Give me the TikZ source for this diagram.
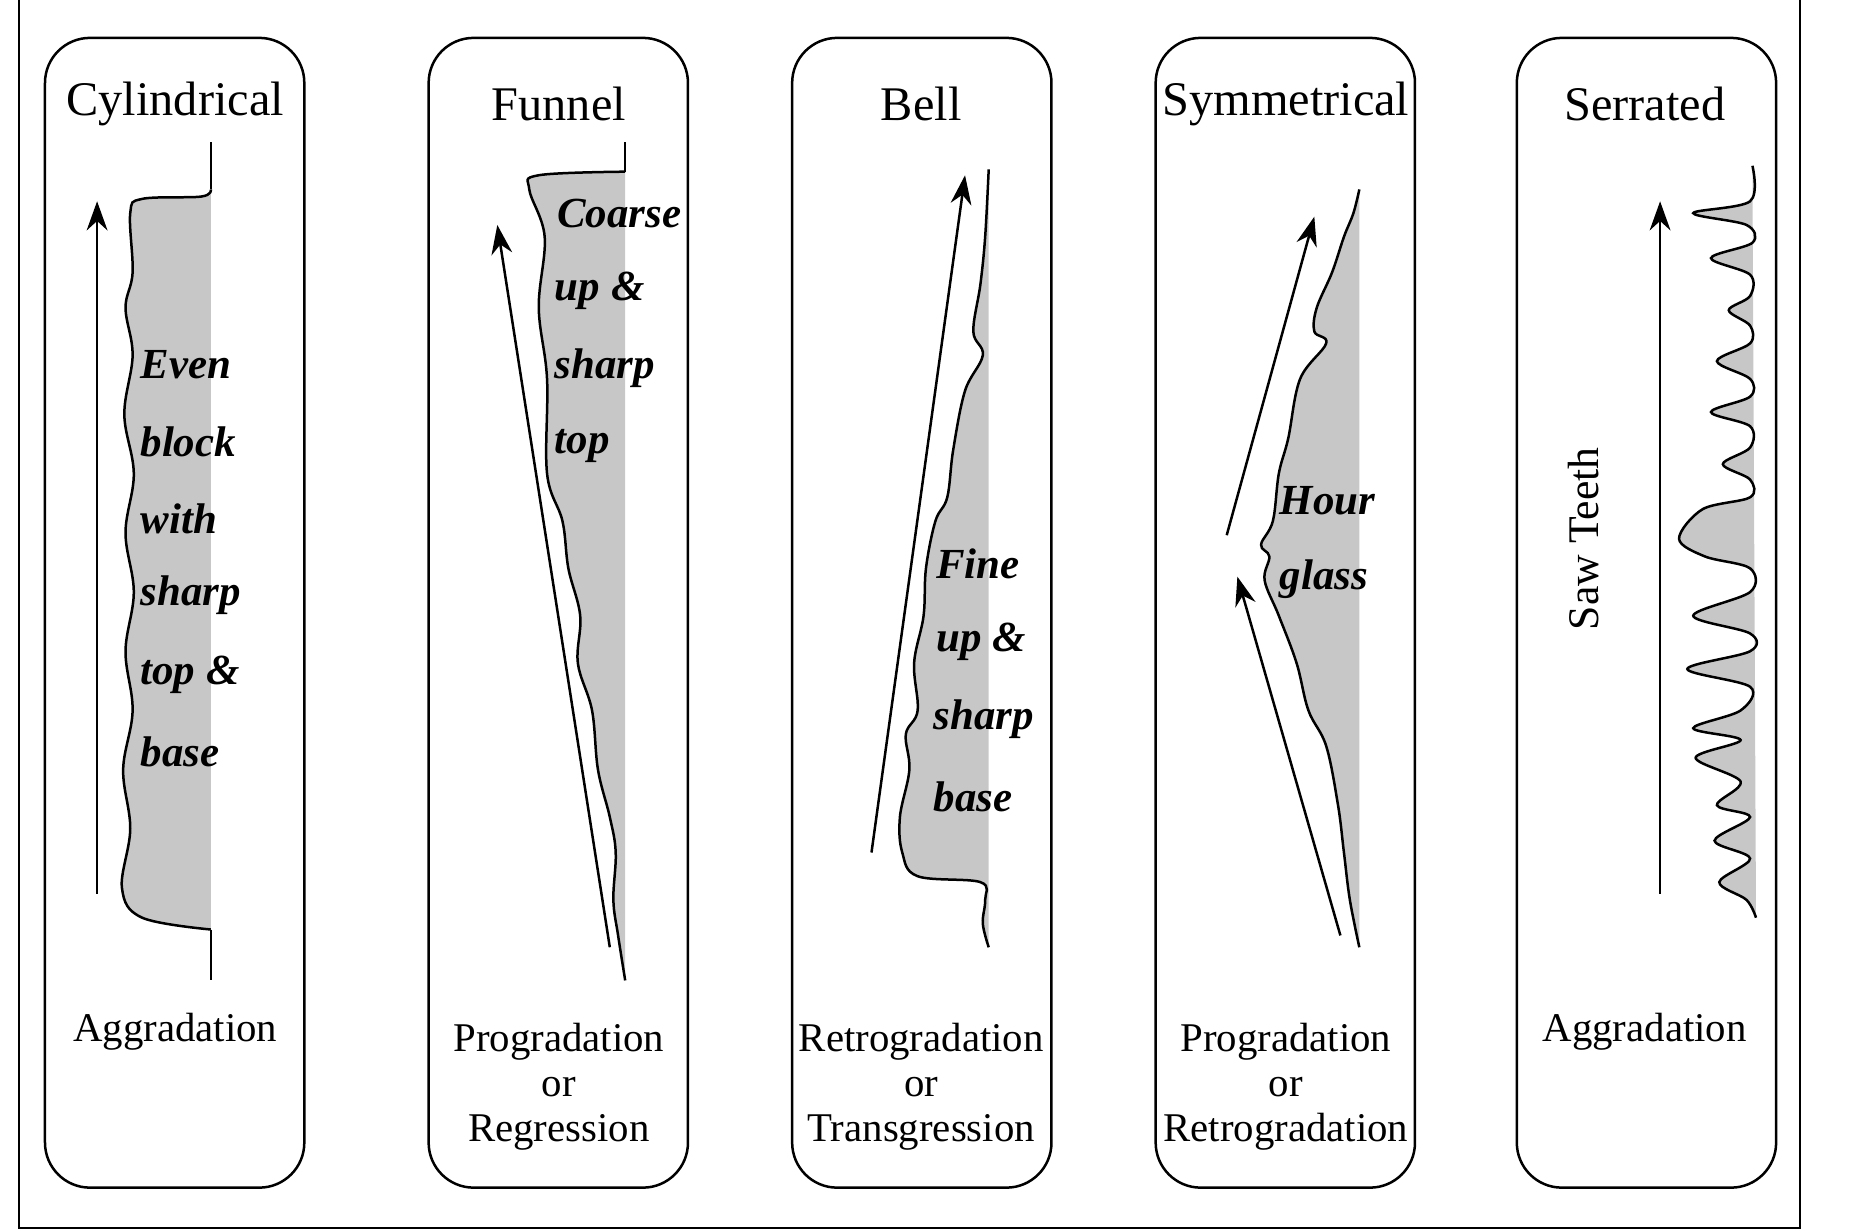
\documentclass[tikz,border=0pt]{standalone}
\usepackage{fontspec}
\setmainfont{Liberation Serif}
\usetikzlibrary{arrows.meta}
\begin{document}
\begin{tikzpicture}[x=0.01cm,y=-0.01cm,
  panel/.style={draw,rounded corners=0.38cm,line width=0.6pt},
  ttl/.style={font=\fontsize{11.6}{14}\selectfont},
  lab/.style={font=\fontsize{9.8}{10.8}\selectfont,align=center},
  it/.style={font=\fontsize{10.3}{12}\selectfont\bfseries\itshape,anchor=west,inner sep=0pt},
  crv/.style={line width=0.6pt},
  shd/.style={fill=black!22},
  arr/.style={-{Stealth[length=7pt,width=5pt]},line width=0.6pt}]
\useasboundingbox (0,0) rectangle (1570,1040);
\draw[line width=0.6pt] (16,0) -- (16,1037) -- (1520,1037) -- (1520,0);
% panels
\foreach \n/\x in {a/38,b/362,c/669,d/976,e/1281}
  \draw[panel] (\x,32) rectangle ++(219,971);
\node[ttl] (t1) at (148,88) {Cylindrical};
\node[ttl] (t2) at (472,88) {Funnel};
\node[ttl] (t3) at (778,88) {Bell};
\node[ttl] (t4) at (1086,88) {Symmetrical};
\node[ttl] (t5) at (1389,88) {Serrated};
\node[lab] (b1) at (148,871) {Aggradation};
\node[lab,anchor=north] (b2) at (472,852) {Progradation\\or\\Regression};
\node[lab,anchor=north] (b3) at (778,852) {Retrogradation\\or\\Transgression};
\node[lab,anchor=north] (b4) at (1086,852) {Progradation\\or\\Retrogradation};
\node[lab] (b5) at (1389,871) {Aggradation};
% panel 1
\newcommand\cA{plot[smooth,tension=0.6] coordinates{(178,160)(170,166)(120,168)(110,180)(112,230)(106,260)(112,300)(105,350)(113,400)(106,450)(113,500)(106,550)(112,600)(104,650)(110,700)(103,750)(120,775)(178,785)}}
\fill[shd] \cA -- cycle;
\draw[crv] \cA;
\draw[crv] (178,120) -- (178,160);
\draw[crv] (178,785) -- (178,828);
\coordinate (a1s) at (82,755); \coordinate (a1e) at (82,170);
\draw[arr] (a1s) -- (a1e);
\node[it] at (118,308) {Even};
\node[it] at (118,373) {block};
\node[it] at (118,438) {with};
\node[it] at (118,503) {sharp};
\node[it] at (118,570) {top \&};
\node[it] at (118,635) {base};
% panel 2
\newcommand\cB{plot[smooth,tension=0.6] coordinates{(528,145)(455,148)(447,160)(460,200)(455,260)(462,320)(462,400)(475,440)(480,480)(490,520)(488,560)(500,600)(505,650)(515,690)(520,720)(518,760)(522,790)(528,828)}}
\fill[shd] \cB -- cycle;
\draw[crv] \cB;
\draw[crv] (528,120) -- (528,145);
\coordinate (a2s) at (515,800); \coordinate (a2e) at (420,190);
\draw[arr] (a2s) -- (a2e);
\node[it] at (470,180) {Coarse};
\node[it] at (468,246) {up \&};
\node[it] at (468,311) {sharp};
\node[it] at (468,377) {top};
% panel 3
\newcommand\cC{plot[smooth,tension=0.6] coordinates{(835,143)(832,200)(828,240)(822,280)(830,300)(815,330)(805,380)(800,420)(790,440)(782,480)(780,520)(772,560)(775,600)(765,620)(768,650)(760,690)(762,720)(775,740)(828,745)(832,760)(830,780)(835,800)}}
\fill[shd] \cC -- cycle;
\draw[crv] \cC;
\coordinate (a3s) at (736,720); \coordinate (a3e) at (815,148);
\draw[arr] (a3s) -- (a3e);
\node[it] at (790,476) {Fine};
\node[it] at (790,542) {up \&};
\node[it] at (788,607) {sharp};
\node[it] at (788,673) {base};
% panel 4
\newcommand\cD{plot[smooth,tension=0.6] coordinates{(1148,160)(1143,180)(1135,200)(1125,230)(1112,260)(1110,280)(1120,290)(1098,320)(1088,370)(1080,400)(1075,440)(1065,460)(1072,470)(1068,490)(1080,520)(1095,560)(1105,600)(1120,630)(1130,680)(1135,720)(1140,760)(1148,800)}}
\fill[shd] \cD -- cycle;
\draw[crv] \cD;
\coordinate (a4s) at (1036,452); \coordinate (a4e) at (1110,183);
\coordinate (a5s) at (1132,790); \coordinate (a5e) at (1045,487);
\draw[arr] (a4s) -- (a4e);
\draw[arr] (a5s) -- (a5e);
\node[it] at (1080,423) {Hour};
\node[it] at (1080,489) {glass};
% panel 5
\newcommand\cE{plot[smooth,tension=0.55] coordinates{(1480,140)(1478,170)(1430,180)(1475,190)(1480,205)(1445,218)(1478,232)(1478,250)(1460,262)(1478,275)(1478,290)(1450,305)(1478,320)(1478,335)(1445,348)(1478,360)(1478,378)(1455,392)(1478,405)(1478,420)(1438,430)(1418,455)(1440,470)(1478,480)(1478,500)(1430,520)(1478,535)(1478,550)(1425,565)(1478,580)(1470,600)(1430,615)(1470,625)(1432,640)(1470,660)(1450,680)(1478,690)(1448,710)(1478,725)(1452,745)(1475,760)(1483,775)}}
\fill[shd] \cE -- cycle;
\draw[crv] \cE;
\coordinate (a6s) at (1402,755); \coordinate (a6e) at (1402,170);
\draw[arr] (a6s) -- (a6e);
\node[font=\fontsize{10.5}{12}\selectfont,rotate=90] (saw) at (1337,455) {Saw Teeth};
\end{tikzpicture}
\end{document}
